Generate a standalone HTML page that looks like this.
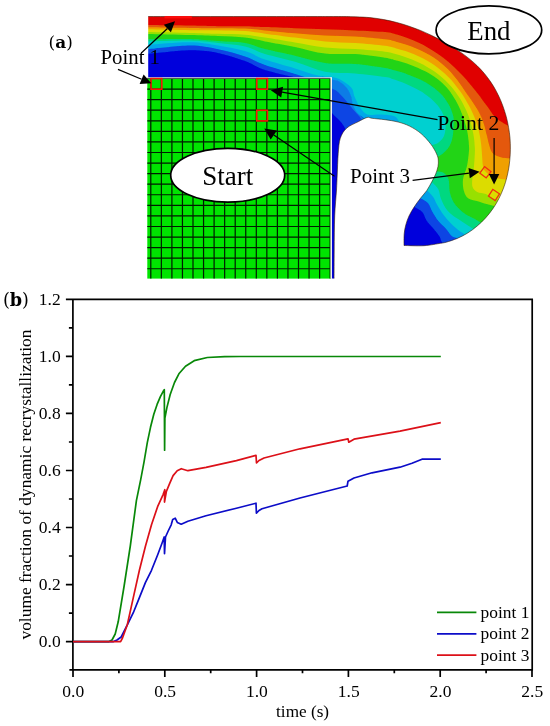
<!DOCTYPE html>
<html><head><meta charset="utf-8"><title>Figure</title>
<style>
html,body{margin:0;padding:0;background:#fff;}
body{width:550px;height:726px;overflow:hidden;}
svg{display:block;}
svg text{font-family:"Liberation Serif","DejaVu Serif",serif;fill:#000;}
</style></head><body>
<svg width="550" height="726" viewBox="0 0 550 726">
<rect width="550" height="726" fill="#fff"/>
<filter id="b1" x="-2%" y="-2%" width="104%" height="104%"><feGaussianBlur stdDeviation="0.4"/></filter><filter id="b2" x="-5%" y="-5%" width="110%" height="110%"><feGaussianBlur stdDeviation="0.55"/></filter>
<clipPath id="wp"><path d="M148.2 16.5 C173.5 16.5 268.9 16.5 300.0 16.5 C331.1 16.5 325.8 16.5 335.0 16.5 C344.2 16.5 349.4 16.6 355.2 16.8 C361.0 17.0 365.2 17.2 369.9 17.6 C374.7 18.1 379.3 18.8 383.8 19.6 C388.2 20.4 392.6 21.4 396.8 22.5 C401.0 23.6 405.0 24.8 409.0 26.2 C412.9 27.5 416.7 28.9 420.4 30.4 C424.1 32.0 427.6 33.6 431.1 35.2 C434.6 36.9 438.0 38.6 441.3 40.4 C444.5 42.2 447.7 44.0 450.9 45.9 C454.0 47.8 457.1 49.8 460.1 51.9 C463.1 53.9 466.0 56.1 468.8 58.4 C471.6 60.6 474.3 63.0 476.9 65.5 C479.5 68.0 482.0 70.7 484.3 73.4 C486.6 76.2 488.8 79.1 490.8 82.1 C492.8 85.1 494.7 88.2 496.4 91.4 C498.1 94.6 499.6 97.9 501.0 101.2 C502.4 104.5 503.6 108.0 504.7 111.4 C505.8 114.9 506.8 118.4 507.5 121.9 C508.3 125.5 508.9 129.1 509.4 132.7 C509.9 136.3 510.2 140.0 510.3 143.7 C510.4 147.4 510.4 151.1 510.2 154.8 C510.0 158.5 509.6 162.2 509.1 166.0 C508.5 169.7 507.8 173.4 506.9 177.1 C506.0 180.8 504.9 184.5 503.5 188.1 C502.2 191.6 500.6 195.2 498.9 198.6 C497.1 202.1 495.1 205.5 492.9 208.7 C490.7 211.9 488.2 215.0 485.6 217.9 C483.0 220.8 480.2 223.5 477.2 226.0 C474.2 228.6 471.0 230.9 467.7 233.0 C464.4 235.0 460.9 236.9 457.3 238.4 C453.8 239.9 449.1 241.4 446.3 242.2 C443.5 243.0 441.5 243.1 440.5 243.3 C437.8 243.7 430.1 245.3 424.0 245.7 C417.9 246.1 407.3 245.5 404.0 245.5 C404.0 243.6 403.9 237.2 404.2 233.8 C404.5 230.4 405.0 227.9 405.8 224.9 C406.6 221.9 407.6 219.0 409.0 216.0 C410.4 213.0 412.2 210.1 414.1 207.1 C416.0 204.1 418.4 201.0 420.5 198.2 C422.6 195.4 424.9 193.3 426.8 190.5 C428.7 187.7 430.4 184.3 431.9 181.6 C433.4 178.8 434.7 176.5 435.7 174.0 C436.7 171.5 437.6 168.7 438.0 166.4 C438.4 164.1 438.5 162.1 438.3 160.0 C438.1 157.9 437.9 156.6 436.6 153.9 C435.4 151.2 433.4 147.5 430.8 144.1 C428.2 140.7 424.6 136.5 421.0 133.5 C417.4 130.5 413.3 128.0 409.5 126.1 C405.7 124.2 402.2 123.1 398.1 122.0 C394.0 120.9 389.3 120.3 385.0 119.7 C380.7 119.1 375.1 118.7 372.1 118.3 C369.1 117.9 369.3 116.9 367.0 117.5 C364.7 118.1 361.5 120.0 358.1 121.8 C354.7 123.6 349.6 125.4 346.6 128.2 C343.6 130.9 341.7 134.1 340.3 138.3 C338.9 142.5 338.7 147.5 338.2 153.6 C337.7 159.7 337.5 168.9 337.2 175.0 C336.9 181.1 336.9 183.2 336.5 190.0 C336.1 196.8 335.1 206.0 334.7 216.0 C334.3 226.0 334.3 239.6 334.2 250.0 C334.1 260.4 334.1 273.8 334.1 278.5 L331.8 278.5 L331.8 77.5 L148.2 77.5 Z"/></clipPath>
<g clip-path="url(#wp)"><g filter="url(#b2)">
<rect x="140" y="10" width="380" height="275" fill="#e00000"/>
<path d="M140.0 25.1 C141.3 25.1 139.7 25.0 148.0 25.1 C156.3 25.2 178.3 25.4 190.0 25.6 C201.7 25.8 208.8 26.1 218.0 26.2 C227.2 26.3 237.2 26.0 245.0 26.2 C252.8 26.4 256.7 26.8 265.0 27.1 C273.3 27.4 285.0 27.8 295.0 28.2 C305.0 28.6 315.0 28.9 325.0 29.3 C335.0 29.7 345.0 29.9 355.0 30.4 C365.0 30.9 378.1 31.3 385.1 32.0 C392.1 32.7 393.1 33.6 396.9 34.6 C400.7 35.7 404.4 36.9 408.0 38.2 C411.5 39.5 414.9 40.9 418.2 42.5 C421.5 44.0 424.7 45.7 427.7 47.4 C430.8 49.1 433.7 51.0 436.5 52.9 C439.3 54.7 441.9 56.7 444.5 58.7 C447.0 60.7 449.5 62.8 451.9 64.9 C454.2 67.0 456.5 69.2 458.6 71.4 C460.8 73.6 462.9 75.9 464.9 78.1 C466.9 80.4 468.9 82.7 470.8 85.0 C472.8 87.4 474.6 89.7 476.5 92.1 C478.4 94.5 480.2 96.9 482.1 99.4 C484.0 101.9 485.7 104.3 487.8 107.1 C489.8 109.9 492.2 113.9 494.5 116.4 C496.8 118.9 499.2 120.3 501.4 121.8 C503.6 123.3 505.4 124.3 507.5 125.2 C509.6 126.1 512.9 126.7 514.0 127.0 L520 127.0 L520 290 L140 290 Z" fill="#e45808"/>
<path d="M140.0 27.2 C141.3 27.2 139.7 27.1 148.0 27.2 C156.3 27.3 178.3 27.7 190.0 27.9 C201.7 28.1 208.8 28.1 218.0 28.2 C227.2 28.3 237.2 28.2 245.0 28.6 C252.8 29.0 256.7 29.6 265.0 30.4 C273.3 31.2 285.0 32.4 295.0 33.2 C305.0 34.0 315.0 34.9 325.0 35.4 C335.0 35.9 345.0 35.9 355.0 36.5 C365.0 37.1 378.2 38.4 385.1 39.3 C391.9 40.1 392.6 40.8 396.2 41.7 C399.8 42.6 403.3 43.6 406.6 44.7 C410.0 45.8 413.2 47.1 416.3 48.4 C419.4 49.7 422.5 51.2 425.4 52.7 C428.3 54.2 431.0 55.9 433.7 57.6 C436.4 59.4 438.9 61.2 441.3 63.2 C443.7 65.1 445.9 67.2 448.1 69.3 C450.2 71.5 452.2 73.7 454.0 76.0 C455.9 78.2 457.6 80.5 459.3 82.8 C461.0 85.1 462.6 87.4 464.1 89.7 C465.7 92.0 467.2 94.2 468.8 96.5 C470.3 98.7 471.9 101.0 473.4 103.3 C474.9 105.6 476.5 107.9 477.9 110.3 C479.2 112.8 480.6 115.3 481.7 117.9 C482.8 120.5 483.7 123.2 484.5 126.0 C485.4 128.7 485.4 130.1 486.6 134.4 C487.8 138.7 489.5 148.0 491.7 151.8 C493.9 155.6 496.9 155.9 500.0 157.0 C503.1 158.1 507.7 158.1 510.0 158.4 C512.3 158.7 513.3 158.6 514.0 158.6 L520 158.6 L520 290 L140 290 Z" fill="#f0a000"/>
<path d="M140.0 29.3 C141.3 29.3 139.7 29.2 148.0 29.3 C156.3 29.4 178.3 30.1 190.0 30.2 C201.7 30.3 208.8 30.0 218.0 30.2 C227.2 30.4 237.2 30.5 245.0 31.1 C252.8 31.7 256.7 32.6 265.0 33.7 C273.3 34.8 285.0 36.3 295.0 37.6 C305.0 38.9 315.0 40.5 325.0 41.4 C335.0 42.3 345.0 42.4 355.0 43.1 C365.0 43.8 378.2 45.0 385.0 45.8 C391.8 46.7 392.2 47.3 395.6 48.2 C399.0 49.1 402.3 50.1 405.5 51.1 C408.7 52.2 411.7 53.4 414.7 54.6 C417.6 55.9 420.5 57.2 423.2 58.6 C426.0 60.0 428.6 61.5 431.1 63.1 C433.7 64.7 436.1 66.4 438.4 68.2 C440.7 69.9 442.9 71.8 445.0 73.7 C447.1 75.6 449.0 77.6 450.9 79.6 C452.7 81.7 454.5 83.8 456.1 85.9 C457.8 88.0 459.4 90.2 460.9 92.3 C462.4 94.5 463.8 96.7 465.2 98.9 C466.5 101.2 467.8 103.4 469.1 105.7 C470.3 108.0 471.5 110.3 472.5 112.7 C473.6 115.1 474.6 117.5 475.5 120.0 C476.5 122.5 477.3 125.0 478.0 127.5 C478.7 130.1 479.3 132.7 479.8 135.4 C480.3 138.0 480.7 140.7 481.0 143.5 C481.4 146.2 481.5 148.0 481.8 151.8 C482.1 155.7 482.5 163.2 483.0 166.4 C483.5 169.6 483.8 169.5 485.0 171.0 C486.2 172.5 488.2 174.3 490.0 175.5 C491.8 176.7 493.3 177.3 496.0 178.0 C498.7 178.7 503.0 179.2 506.0 179.5 C509.0 179.8 512.7 179.9 514.0 180.0 L520 180.0 L520 290 L140 290 Z" fill="#dcdc00"/>
<path d="M140.0 32.0 C141.3 32.0 139.7 31.9 148.0 32.0 C156.3 32.1 178.3 32.6 190.0 32.9 C201.7 33.2 208.8 33.5 218.0 33.8 C227.2 34.1 237.2 34.1 245.0 34.7 C252.8 35.3 256.7 36.3 265.0 37.6 C273.3 38.9 285.0 40.9 295.0 42.5 C305.0 44.1 315.0 46.4 325.0 47.5 C335.0 48.6 345.0 48.4 355.0 49.1 C365.0 49.8 378.4 50.9 385.0 51.7 C391.6 52.5 391.5 53.0 394.6 53.8 C397.7 54.6 400.7 55.5 403.6 56.4 C406.5 57.4 409.3 58.4 412.0 59.5 C414.7 60.6 417.3 61.7 419.8 63.0 C422.3 64.2 424.7 65.5 427.1 66.9 C429.4 68.2 431.6 69.6 433.8 71.1 C436.0 72.6 438.0 74.2 440.0 75.8 C442.0 77.4 443.9 79.1 445.7 80.8 C447.5 82.5 449.2 84.3 450.9 86.2 C452.5 88.0 454.0 89.9 455.5 91.9 C456.9 93.8 458.3 95.8 459.5 97.8 C460.8 99.8 462.0 101.9 463.1 103.9 C464.2 106.0 465.2 108.1 466.2 110.3 C467.1 112.4 468.0 114.6 468.8 116.8 C469.6 119.0 470.3 121.2 470.9 123.5 C471.6 125.7 472.1 128.0 472.6 130.3 C473.1 132.6 473.5 134.9 473.9 137.3 C474.2 139.6 474.5 142.0 474.6 144.4 C474.8 146.9 475.0 148.2 474.9 151.8 C474.8 155.4 474.4 161.8 474.0 166.0 C473.6 170.2 472.8 173.5 472.5 177.0 C472.2 180.5 471.7 184.3 472.5 186.8 C473.3 189.3 475.0 190.7 477.2 191.9 C479.4 193.1 483.2 192.9 485.9 194.0 C488.6 195.1 490.3 197.5 493.2 198.5 C496.1 199.5 501.4 199.8 503.0 200.0 L520 200.0 L520 290 L140 290 Z" fill="#98e000"/>
<path d="M140.0 34.0 C141.3 34.0 139.7 33.8 148.0 34.0 C156.3 34.2 178.3 34.7 190.0 35.0 C201.7 35.3 208.8 35.6 218.0 36.0 C227.2 36.4 237.2 36.6 245.0 37.5 C252.8 38.4 256.7 39.8 265.0 41.4 C273.3 43.0 285.0 44.9 295.0 46.9 C305.0 48.9 315.0 52.4 325.0 53.6 C335.0 54.8 345.0 53.4 355.0 54.1 C365.0 54.8 378.5 56.8 385.0 57.8 C391.6 58.8 391.3 59.2 394.2 59.9 C397.2 60.6 400.0 61.4 402.8 62.3 C405.5 63.1 408.1 64.0 410.7 64.9 C413.3 65.9 415.8 66.9 418.2 67.9 C420.6 69.0 422.9 70.1 425.2 71.3 C427.4 72.4 429.6 73.7 431.7 75.0 C433.8 76.4 435.9 77.8 437.8 79.3 C439.7 80.8 441.6 82.3 443.3 84.0 C445.0 85.7 446.7 87.4 448.2 89.2 C449.7 91.1 451.0 93.0 452.3 94.9 C453.6 96.8 454.8 98.8 455.9 100.8 C457.0 102.7 458.0 104.8 459.0 106.8 C459.9 108.8 460.8 110.8 461.6 112.9 C462.5 114.9 463.2 116.9 463.9 119.0 C464.6 121.1 465.2 123.2 465.8 125.3 C466.4 127.4 466.9 129.5 467.3 131.7 C467.7 133.9 468.1 136.0 468.3 138.2 C468.6 140.4 468.8 142.7 468.9 144.9 C469.0 147.2 469.3 148.2 468.9 151.8 C468.6 155.3 468.0 161.4 467.0 166.0 C466.0 170.6 463.5 175.3 463.0 179.5 C462.5 183.7 463.1 188.0 464.0 191.2 C464.9 194.4 466.1 196.8 468.5 198.5 C470.9 200.2 475.0 200.3 478.6 201.4 C482.2 202.5 486.7 204.1 490.3 205.0 C493.9 205.9 498.4 206.7 500.0 207.0 L520 207.0 L520 290 L140 290 Z" fill="#20d418"/>
<path d="M140.0 39.3 C141.3 39.3 139.7 39.3 148.0 39.3 C156.3 39.2 178.3 38.7 190.0 39.0 C201.7 39.3 208.8 40.5 218.0 41.1 C227.2 41.8 237.2 41.6 245.0 42.9 C252.8 44.2 256.7 47.0 265.0 49.1 C273.3 51.2 285.0 53.5 295.0 55.8 C305.0 58.1 315.0 61.5 325.0 62.9 C335.0 64.3 345.0 63.2 355.0 64.0 C365.0 64.8 378.7 67.0 385.1 68.0 C391.5 69.0 390.6 69.3 393.2 70.0 C395.8 70.6 398.3 71.4 400.7 72.1 C403.1 72.8 405.4 73.6 407.6 74.4 C409.9 75.2 412.0 76.0 414.1 76.9 C416.2 77.8 418.2 78.7 420.2 79.6 C422.2 80.6 424.1 81.6 425.9 82.6 C427.8 83.7 429.6 84.8 431.3 85.9 C433.1 87.1 434.7 88.4 436.3 89.7 C437.9 91.0 439.4 92.3 440.8 93.8 C442.3 95.3 443.6 96.8 444.8 98.4 C446.0 100.0 447.1 101.6 448.1 103.4 C449.1 105.1 450.0 106.8 450.7 108.6 C451.5 110.4 452.1 112.3 452.6 114.1 C453.1 116.0 453.6 116.4 453.7 119.7 C453.7 123.1 453.6 130.2 453.0 134.4 C452.4 138.6 451.5 142.0 450.0 145.0 C448.5 148.0 446.1 150.5 444.0 152.5 C441.9 154.5 439.7 155.8 437.4 157.0 C435.1 158.2 431.2 159.5 430.0 160.0 L420 200 L140 200 Z" fill="#00d880"/>
<path d="M140.0 41.5 C141.3 41.5 139.7 41.6 148.0 41.5 C156.3 41.4 178.3 40.4 190.0 40.6 C201.7 40.9 208.8 42.0 218.0 43.0 C227.2 44.0 237.2 44.6 245.0 46.5 C252.8 48.4 256.7 51.6 265.0 54.1 C273.3 56.6 285.0 58.9 295.0 61.8 C305.0 64.7 315.0 69.8 325.0 71.7 C335.0 73.6 345.0 72.5 355.0 73.4 C365.0 74.3 379.0 76.2 385.2 77.1 C391.4 78.0 390.1 78.4 392.4 79.1 C394.7 79.7 396.9 80.5 399.0 81.2 C401.1 81.9 403.0 82.7 405.0 83.5 C406.9 84.3 408.7 85.1 410.5 85.9 C412.2 86.7 413.9 87.6 415.6 88.4 C417.2 89.3 418.8 90.2 420.3 91.1 C421.8 92.0 423.3 92.9 424.8 93.9 C426.2 94.9 427.6 95.9 428.9 96.9 C430.2 98.0 431.5 99.0 432.7 100.2 C433.9 101.3 435.1 102.5 436.1 103.7 C437.2 104.9 438.3 106.2 439.2 107.5 C440.1 108.8 441.0 110.1 441.8 111.5 C442.5 112.9 443.2 114.4 443.8 115.8 C444.3 117.3 444.8 118.8 445.2 120.3 C445.5 121.8 446.0 122.3 445.8 124.9 C445.6 127.5 445.2 133.1 444.0 136.0 C442.8 138.9 440.4 141.0 438.5 142.5 C436.6 144.0 434.8 144.2 432.5 145.0 C430.2 145.8 426.2 146.7 425.0 147.0 L415 200 L140 200 Z" fill="#00d0d0"/>
<path d="M140.0 44.7 C141.3 44.7 139.7 45.1 148.0 44.7 C156.3 44.3 178.3 42.1 190.0 42.3 C201.7 42.4 208.8 44.1 218.0 45.6 C227.2 47.1 237.2 48.8 245.0 51.1 C252.8 53.4 256.7 56.7 265.0 59.6 C273.3 62.5 286.2 65.8 295.0 68.4 C303.8 71.1 311.1 73.9 318.0 75.5 C324.9 77.1 330.9 76.0 336.4 78.0 C341.9 80.0 348.0 84.2 351.0 87.3 C354.0 90.4 353.0 93.1 354.5 96.4 C356.0 99.7 357.9 104.3 360.0 107.3 C362.1 110.3 364.0 113.3 367.3 114.5 C370.6 115.7 375.4 114.2 380.0 114.5 C384.6 114.8 391.7 114.8 395.0 116.5 C398.3 118.2 399.2 123.6 400.0 125.0 L400.0 290 L140 290 Z" fill="#00a8e8"/>
<path d="M140.0 49.3 C141.3 49.3 139.7 49.9 148.0 49.3 C156.3 48.7 178.3 45.6 190.0 45.6 C201.7 45.6 208.8 47.5 218.0 49.3 C227.2 51.1 237.2 53.9 245.0 56.5 C252.8 59.1 256.7 62.2 265.0 65.1 C273.3 68.0 287.5 71.8 295.0 73.9 C302.5 76.1 303.9 77.0 310.0 78.0 C316.1 79.0 326.5 77.8 331.8 80.0 C337.1 82.2 338.9 87.4 341.8 91.0 C344.7 94.6 346.6 98.2 349.0 101.8 C351.4 105.4 354.0 110.0 356.4 112.7 C358.8 115.4 362.0 116.0 363.6 118.0 C365.2 120.0 365.6 123.8 366.0 125.0 L366.0 290 L140 290 Z" fill="#0844e4"/>
<path d="M322.0 76.5 C323.6 77.0 328.9 78.7 331.8 79.5 C334.7 80.3 336.7 80.0 339.2 81.4 C341.7 82.8 344.8 85.4 346.8 87.9 C348.8 90.4 350.2 93.9 351.2 96.6 C352.2 99.3 351.9 101.8 352.8 104.3 C353.7 106.8 354.9 109.6 356.6 111.9 C358.3 114.2 361.6 116.2 363.2 118.4 C364.8 120.6 365.5 123.9 366.0 125.0 L364.0 125.0 C363.5 123.9 362.8 121.0 361.0 118.4 C359.2 115.9 355.2 111.9 353.4 109.7 C351.6 107.5 351.6 107.4 350.0 105.4 C348.4 103.4 345.7 100.1 343.5 97.7 C341.3 95.3 338.9 92.8 337.0 91.2 C335.1 89.7 333.8 89.4 332.0 88.4 C330.2 87.4 327.7 86.1 326.0 85.0 C324.3 83.9 322.7 82.5 322.0 82.0 Z" fill="#0c7ce6"/>
<path d="M140.0 53.8 C141.3 53.8 139.7 54.4 148.0 53.8 C156.3 53.2 178.3 50.4 190.0 50.2 C201.7 50.1 208.8 51.1 218.0 52.9 C227.2 54.7 237.2 58.2 245.0 61.1 C252.8 64.0 256.7 67.4 265.0 70.1 C273.3 72.8 289.2 76.2 295.0 77.5 C300.8 78.8 296.7 75.9 300.0 78.0 C303.3 80.1 309.7 84.2 315.0 90.0 C320.3 95.8 327.8 107.7 331.8 112.7 C335.8 117.7 336.9 117.6 339.0 120.0 C341.1 122.4 343.3 124.8 344.5 127.3 C345.7 129.8 345.8 133.7 346.0 135.0 L346.0 290 L140 290 Z" fill="#0000dc"/>
<path d="M430.0 171.5 C431.2 171.5 434.8 171.3 437.0 171.5 C439.2 171.7 441.5 171.4 443.4 172.7 C445.3 174.0 447.4 175.9 448.5 179.1 C449.6 182.3 448.9 188.0 449.7 191.8 C450.5 195.6 451.8 199.0 453.5 202.0 C455.2 205.0 457.8 207.5 459.9 209.6 C462.0 211.7 463.5 212.9 466.0 214.5 C468.5 216.1 472.4 217.7 474.9 219.0 C477.3 220.3 478.2 221.1 480.7 222.6 C483.2 224.1 488.4 227.1 490.0 228.0 L490.0 260 L390 260 L390 171.5 Z" fill="#00d880"/>
<path d="M425.0 180.0 C426.1 180.4 429.7 180.8 431.9 182.3 C434.1 183.9 436.8 186.7 438.3 189.3 C439.8 192.0 439.5 195.0 440.8 198.2 C442.1 201.4 443.8 205.4 445.9 208.4 C448.0 211.4 451.1 214.0 453.5 216.0 C455.9 218.0 457.8 218.8 460.4 220.5 C463.0 222.2 466.9 224.9 469.1 226.3 C471.3 227.8 471.4 227.6 473.5 229.2 C475.6 230.8 480.6 234.9 482.0 236.0 L482.0 260 L390 260 L390 180.0 Z" fill="#00d0d0"/>
<path d="M420.0 188.0 C421.1 188.4 424.6 189.0 426.8 190.5 C429.0 192.0 431.5 194.6 433.2 196.9 C434.9 199.2 435.3 201.5 437.0 204.5 C438.7 207.5 441.1 211.5 443.4 214.7 C445.7 217.9 448.2 220.8 451.0 223.6 C453.8 226.4 457.6 229.5 459.9 231.3 C462.2 233.1 462.7 232.7 464.7 234.5 C466.7 236.3 470.8 240.8 472.0 242.0 L472.0 260 L390 260 L390 188.0 Z" fill="#00a0e8"/>
<path d="M414.0 196.0 C415.1 196.4 418.1 197.0 420.5 198.2 C422.9 199.4 426.2 201.2 428.1 203.3 C430.0 205.4 430.2 207.9 431.9 210.9 C433.6 213.9 436.0 218.1 438.3 221.1 C440.6 224.1 443.6 226.1 445.9 228.7 C448.2 231.2 450.1 234.8 452.3 236.4 C454.5 238.1 456.9 237.0 458.9 238.6 C460.8 240.2 463.1 244.8 464.0 246.0 L464.0 260 L390 260 L390 196.0 Z" fill="#0844e4"/>
<path d="M408.0 205.0 C409.0 205.3 411.7 205.9 414.1 207.1 C416.5 208.3 420.3 209.9 422.4 212.2 C424.5 214.5 424.8 218.1 426.8 221.1 C428.8 224.1 432.4 227.4 434.5 230.0 C436.6 232.6 438.3 234.5 439.5 236.4 C440.7 238.3 440.4 239.2 441.5 241.5 C442.6 243.8 445.2 248.6 446.0 250.0 L446.0 260 L390 260 L390 205.0 Z" fill="#0000dc"/>
</g></g>
<path d="M148.2 16.5 C173.5 16.5 268.9 16.5 300.0 16.5 C331.1 16.5 325.8 16.5 335.0 16.5 C344.2 16.5 349.4 16.6 355.2 16.8 C361.0 17.0 365.2 17.2 369.9 17.6 C374.7 18.1 379.3 18.8 383.8 19.6 C388.2 20.4 392.6 21.4 396.8 22.5 C401.0 23.6 405.0 24.8 409.0 26.2 C412.9 27.5 416.7 28.9 420.4 30.4 C424.1 32.0 427.6 33.6 431.1 35.2 C434.6 36.9 438.0 38.6 441.3 40.4 C444.5 42.2 447.7 44.0 450.9 45.9 C454.0 47.8 457.1 49.8 460.1 51.9 C463.1 53.9 466.0 56.1 468.8 58.4 C471.6 60.6 474.3 63.0 476.9 65.5 C479.5 68.0 482.0 70.7 484.3 73.4 C486.6 76.2 488.8 79.1 490.8 82.1 C492.8 85.1 494.7 88.2 496.4 91.4 C498.1 94.6 499.6 97.9 501.0 101.2 C502.4 104.5 503.6 108.0 504.7 111.4 C505.8 114.9 506.8 118.4 507.5 121.9 C508.3 125.5 508.9 129.1 509.4 132.7 C509.9 136.3 510.2 140.0 510.3 143.7 C510.4 147.4 510.4 151.1 510.2 154.8 C510.0 158.5 509.6 162.2 509.1 166.0 C508.5 169.7 507.8 173.4 506.9 177.1 C506.0 180.8 504.9 184.5 503.5 188.1 C502.2 191.6 500.6 195.2 498.9 198.6 C497.1 202.1 495.1 205.5 492.9 208.7 C490.7 211.9 488.2 215.0 485.6 217.9 C483.0 220.8 480.2 223.5 477.2 226.0 C474.2 228.6 471.0 230.9 467.7 233.0 C464.4 235.0 460.9 236.9 457.3 238.4 C453.8 239.9 449.1 241.4 446.3 242.2 C443.5 243.0 441.5 243.1 440.5 243.3 C437.8 243.7 430.1 245.3 424.0 245.7 C417.9 246.1 407.3 245.5 404.0 245.5 C404.0 243.6 403.9 237.2 404.2 233.8 C404.5 230.4 405.0 227.9 405.8 224.9 C406.6 221.9 407.6 219.0 409.0 216.0 C410.4 213.0 412.2 210.1 414.1 207.1 C416.0 204.1 418.4 201.0 420.5 198.2 C422.6 195.4 424.9 193.3 426.8 190.5 C428.7 187.7 430.4 184.3 431.9 181.6 C433.4 178.8 434.7 176.5 435.7 174.0 C436.7 171.5 437.6 168.7 438.0 166.4 C438.4 164.1 438.5 162.1 438.3 160.0 C438.1 157.9 437.9 156.6 436.6 153.9 C435.4 151.2 433.4 147.5 430.8 144.1 C428.2 140.7 424.6 136.5 421.0 133.5 C417.4 130.5 413.3 128.0 409.5 126.1 C405.7 124.2 402.2 123.1 398.1 122.0 C394.0 120.9 389.3 120.3 385.0 119.7 C380.7 119.1 375.1 118.7 372.1 118.3 C369.1 117.9 369.3 116.9 367.0 117.5 C364.7 118.1 361.5 120.0 358.1 121.8 C354.7 123.6 349.6 125.4 346.6 128.2 C343.6 130.9 341.7 134.1 340.3 138.3 C338.9 142.5 338.7 147.5 338.2 153.6 C337.7 159.7 337.5 168.9 337.2 175.0 C336.9 181.1 336.9 183.2 336.5 190.0 C336.1 196.8 335.1 206.0 334.7 216.0 C334.3 226.0 334.3 239.6 334.2 250.0 C334.1 260.4 334.1 273.8 334.1 278.5" fill="none" stroke="#301800" stroke-opacity="0.7" stroke-width="0.8"/>
<rect x="147.3" y="78.3" width="183.3" height="200.3" fill="#00e400"/>
<path d="M150.80 78.3V278.6M161.35 78.3V278.6M171.90 78.3V278.6M182.45 78.3V278.6M193.00 78.3V278.6M203.55 78.3V278.6M214.10 78.3V278.6M224.65 78.3V278.6M235.20 78.3V278.6M245.75 78.3V278.6M256.30 78.3V278.6M266.85 78.3V278.6M277.40 78.3V278.6M287.95 78.3V278.6M298.50 78.3V278.6M309.05 78.3V278.6M319.60 78.3V278.6M330.15 78.3V278.6M147.3 78.50H330.6M147.3 89.07H330.6M147.3 99.64H330.6M147.3 110.21H330.6M147.3 120.78H330.6M147.3 131.35H330.6M147.3 141.92H330.6M147.3 152.49H330.6M147.3 163.06H330.6M147.3 173.63H330.6M147.3 184.20H330.6M147.3 194.77H330.6M147.3 205.34H330.6M147.3 215.91H330.6M147.3 226.48H330.6M147.3 237.05H330.6M147.3 247.62H330.6M147.3 258.19H330.6M147.3 268.76H330.6" stroke="#001c00" stroke-width="1.2" fill="none" filter="url(#b1)"/>
<path d="M147.3 77.9H330.6" stroke="#c8c8c8" stroke-width="1" fill="none"/>
<rect x="330.5" y="77.3" width="1.4" height="201.3" fill="#f6f6f6"/>
<rect x="151" y="78.6" width="10.8" height="10.6" fill="none" stroke="#f41808" stroke-width="1.6"/>
<rect x="256.8" y="78.6" width="10.6" height="10.6" fill="none" stroke="#f41808" stroke-width="1.6"/>
<rect x="256.8" y="110.3" width="10.6" height="10.6" fill="none" stroke="#f41808" stroke-width="1.6"/>
<rect x="164.5" y="16.1" width="27.4" height="2.3" fill="#ff0c0c"/>
<rect x="-4" y="-4" width="8" height="8" transform="translate(485.4 172.3) rotate(37)" fill="none" stroke="#f03010" stroke-width="1.3"/>
<rect x="-4" y="-4" width="8" height="8" transform="translate(494 195) rotate(33)" fill="none" stroke="#f03010" stroke-width="1.3"/>
<ellipse cx="227.7" cy="175.2" rx="57" ry="26.9" fill="#fff" stroke="#000" stroke-width="1.7"/>
<ellipse cx="488.9" cy="29.9" rx="52.8" ry="24" fill="#fff" stroke="#000" stroke-width="1.7"/>
<path d="M141.3 53.0L167.4 28.5" stroke="#000" stroke-width="1.2"/><path d="M175.0 21.3L170.9 32.3L163.8 24.7Z" fill="#000"/>
<path d="M118.0 69.4L141.6 79.2" stroke="#000" stroke-width="1.2"/><path d="M151.3 83.2L139.6 84.0L143.6 74.4Z" fill="#000"/>
<path d="M437.5 119.6L282.1 92.2" stroke="#000" stroke-width="1.2"/><path d="M270.8 90.2L283.1 86.8L281.2 97.6Z" fill="#000"/>
<path d="M494.1 138.0L494.1 174.1" stroke="#000" stroke-width="1.2"/><path d="M494.1 184.6L488.9 174.1L499.3 174.1Z" fill="#000"/>
<path d="M412.6 180.3L469.2 173.1" stroke="#000" stroke-width="1.2"/><path d="M479.6 171.8L469.8 178.3L468.5 168.0Z" fill="#000"/>
<path d="M334.5 176.3L273.8 135.1" stroke="#000" stroke-width="1.2"/><path d="M264.3 128.6L276.9 130.5L270.7 139.6Z" fill="#000"/>
<text x="100.5" y="63.8" font-size="20.8" text-anchor="start" >Point 1</text>
<text x="437.2" y="129.8" font-size="21.7" text-anchor="start" >Point 2</text>
<text x="350.0" y="182.9" font-size="21.0" text-anchor="start" >Point 3</text>
<text x="227.7" y="185.2" font-size="27.0" text-anchor="middle" >Start</text>
<text x="488.9" y="39.8" font-size="26.8" text-anchor="middle" >End</text>
<text x="48.6" y="47.8" font-size="16.9" style="font-family:'DejaVu Serif','Liberation Serif',serif">(<tspan font-weight="bold">a</tspan>)</text>
<text x="2.9" y="306.4" font-size="17.6" style="font-family:'DejaVu Serif','Liberation Serif',serif">(<tspan font-weight="bold">b</tspan>)</text>
<text x="60.7" y="647.3" font-size="17.5" text-anchor="end" >0.0</text>
<text x="60.7" y="590.3" font-size="17.5" text-anchor="end" >0.2</text>
<text x="60.7" y="533.2" font-size="17.5" text-anchor="end" >0.4</text>
<text x="60.7" y="476.2" font-size="17.5" text-anchor="end" >0.6</text>
<text x="60.7" y="419.1" font-size="17.5" text-anchor="end" >0.8</text>
<text x="60.7" y="362.1" font-size="17.5" text-anchor="end" >1.0</text>
<text x="60.7" y="305.1" font-size="17.5" text-anchor="end" >1.2</text>
<text x="73.3" y="696.5" font-size="17.5" text-anchor="middle" >0.0</text>
<text x="165.1" y="696.5" font-size="17.5" text-anchor="middle" >0.5</text>
<text x="256.9" y="696.5" font-size="17.5" text-anchor="middle" >1.0</text>
<text x="348.7" y="696.5" font-size="17.5" text-anchor="middle" >1.5</text>
<text x="440.5" y="696.5" font-size="17.5" text-anchor="middle" >2.0</text>
<text x="532.3" y="696.5" font-size="17.5" text-anchor="middle" >2.5</text>
<path d="M65.9 299.4H532.2V669.9H69.4 M72.9 299.4V669.9" fill="none" stroke="#000" stroke-width="1.7"/>
<path d="M72.9 641.6H65.9M72.9 613.1H68.9M72.9 584.6H65.9M72.9 556.0H68.9M72.9 527.5H65.9M72.9 499.0H68.9M72.9 470.5H65.9M72.9 442.0H68.9M72.9 413.4H65.9M72.9 384.9H68.9M72.9 356.4H65.9M72.9 327.9H68.9M73.0 669.9V676.9M118.9 669.9V673.3M164.8 669.9V676.9M210.7 669.9V673.3M256.6 669.9V676.9M302.5 669.9V673.3M348.4 669.9V676.9M394.3 669.9V673.3M440.2 669.9V676.9M486.1 669.9V673.3M532.0 669.9V676.9" stroke="#000" stroke-width="1.7" fill="none"/>
<text x="302.6" y="716.9" font-size="17.2" text-anchor="middle" >time (s)</text>
<text transform="translate(30.7 484.5) rotate(-90)" font-size="17.4" text-anchor="middle">volume fraction of dynamic recrystallization</text>
<path d="M73.0 641.6 L109.0 641.6 L112.0 640.0 L115.2 634.0 L118.2 621.8 L124.2 585.5 L130.3 546.0 L136.4 500.6 L140.7 479.6 L144.0 462.2 L147.3 442.6 L150.5 427.3 L153.8 414.2 L157.1 404.4 L160.4 396.7 L163.6 390.6 L164.3 389.7 L164.6 450.2 L164.9 418.0 L166.9 407.6 L170.2 394.5 L174.5 382.5 L178.9 373.8 L185.5 366.2 L194.2 360.7 L207.3 357.5 L224.7 356.6 L240.0 356.5 L440.8 356.5" fill="none" stroke="#088808" stroke-width="1.7" stroke-linejoin="round"/>
<path d="M73.0 641.6 L113.6 641.6 L117.0 640.0 L121.2 637.0 L127.3 624.8 L133.3 612.7 L139.4 597.6 L145.5 582.4 L151.5 570.3 L157.6 555.0 L162.1 543.0 L164.2 537.0 L164.5 553.6 L165.5 537.0 L168.2 531.0 L171.2 524.8 L172.7 519.4 L175.2 518.2 L177.3 522.4 L181.2 524.2 L187.9 521.2 L206.0 515.8 L236.4 508.2 L256.0 503.2 L256.4 513.2 L259.0 510.5 L262.0 508.8 L300.0 498.0 L347.2 486.0 L348.0 481.2 L354.0 478.0 L372.0 472.8 L400.0 467.2 L412.0 463.2 L422.0 459.2 L440.8 459.2" fill="none" stroke="#0c0cc8" stroke-width="1.7" stroke-linejoin="round"/>
<path d="M73.0 641.6 L120.6 641.6 L122.5 638.0 L127.3 624.8 L133.3 597.6 L139.4 570.3 L145.5 546.0 L151.5 524.8 L157.6 506.7 L163.1 494.6 L164.8 489.7 L164.5 502.1 L166.4 491.3 L169.8 483.1 L173.1 475.6 L177.2 470.7 L181.3 468.7 L187.9 470.7 L206.0 467.3 L236.4 460.6 L256.0 455.4 L256.5 463.0 L259.0 460.5 L264.0 458.0 L300.0 448.8 L348.0 438.8 L348.8 442.2 L354.0 439.2 L400.0 431.2 L440.8 422.7" fill="none" stroke="#dc1018" stroke-width="1.7" stroke-linejoin="round"/>
<path d="M437 612.3H476.4" stroke="#088808" stroke-width="1.8"/>
<text x="480.6" y="617.8" font-size="17.4" text-anchor="start" >point 1</text>
<path d="M437 633.8H476.4" stroke="#0c0cc8" stroke-width="1.8"/>
<text x="480.6" y="639.2" font-size="17.4" text-anchor="start" >point 2</text>
<path d="M437 655.2H476.4" stroke="#dc1018" stroke-width="1.8"/>
<text x="480.6" y="660.7" font-size="17.4" text-anchor="start" >point 3</text>
</svg>
</body></html>
